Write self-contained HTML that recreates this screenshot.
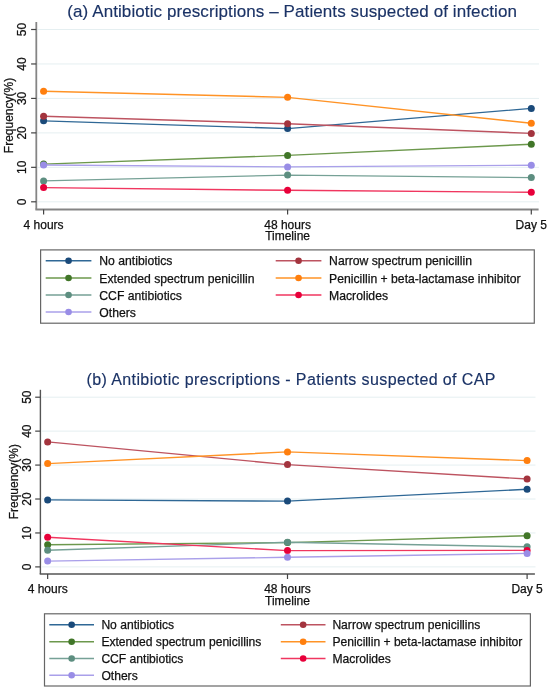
<!DOCTYPE html>
<html><head><meta charset="utf-8"><style>
html,body{margin:0;padding:0;background:#fff;}
svg{display:block;font-family:"Liberation Sans", sans-serif;will-change:transform;}
</style></head><body>
<svg width="550" height="692" viewBox="0 0 550 692" shape-rendering="geometricPrecision">
<rect width="550" height="692" fill="#fff"/>
<line x1="37.8" y1="201.80" x2="539" y2="201.80" stroke="#e5eff1" stroke-width="1"/>
<line x1="37.8" y1="167.34" x2="539" y2="167.34" stroke="#e5eff1" stroke-width="1"/>
<line x1="37.8" y1="132.88" x2="539" y2="132.88" stroke="#e5eff1" stroke-width="1"/>
<line x1="37.8" y1="98.42" x2="539" y2="98.42" stroke="#e5eff1" stroke-width="1"/>
<line x1="37.8" y1="63.96" x2="539" y2="63.96" stroke="#e5eff1" stroke-width="1"/>
<line x1="37.8" y1="29.50" x2="539" y2="29.50" stroke="#e5eff1" stroke-width="1"/>
<line x1="36.3" y1="22" x2="36.3" y2="209.5" stroke="#858585" stroke-width="1.8"/>
<line x1="35.4" y1="209.5" x2="538.6" y2="209.5" stroke="#858585" stroke-width="1.8"/>
<line x1="31.099999999999998" y1="201.80" x2="36.3" y2="201.80" stroke="#444" stroke-width="1.2"/>
<text x="0" y="0" transform="translate(26.2,201.80) rotate(-90)" text-anchor="middle" font-size="12" fill="#111" stroke="#111" stroke-width="0.25">0</text>
<line x1="31.099999999999998" y1="167.34" x2="36.3" y2="167.34" stroke="#444" stroke-width="1.2"/>
<text x="0" y="0" transform="translate(26.2,167.34) rotate(-90)" text-anchor="middle" font-size="12" fill="#111" stroke="#111" stroke-width="0.25">10</text>
<line x1="31.099999999999998" y1="132.88" x2="36.3" y2="132.88" stroke="#444" stroke-width="1.2"/>
<text x="0" y="0" transform="translate(26.2,132.88) rotate(-90)" text-anchor="middle" font-size="12" fill="#111" stroke="#111" stroke-width="0.25">20</text>
<line x1="31.099999999999998" y1="98.42" x2="36.3" y2="98.42" stroke="#444" stroke-width="1.2"/>
<text x="0" y="0" transform="translate(26.2,98.42) rotate(-90)" text-anchor="middle" font-size="12" fill="#111" stroke="#111" stroke-width="0.25">30</text>
<line x1="31.099999999999998" y1="63.96" x2="36.3" y2="63.96" stroke="#444" stroke-width="1.2"/>
<text x="0" y="0" transform="translate(26.2,63.96) rotate(-90)" text-anchor="middle" font-size="12" fill="#111" stroke="#111" stroke-width="0.25">40</text>
<line x1="31.099999999999998" y1="29.50" x2="36.3" y2="29.50" stroke="#444" stroke-width="1.2"/>
<text x="0" y="0" transform="translate(26.2,29.50) rotate(-90)" text-anchor="middle" font-size="12" fill="#111" stroke="#111" stroke-width="0.25">50</text>
<line x1="43.6" y1="209.5" x2="43.6" y2="214.5" stroke="#444" stroke-width="1.2"/>
<line x1="287.6" y1="209.5" x2="287.6" y2="214.5" stroke="#444" stroke-width="1.2"/>
<line x1="531.3" y1="209.5" x2="531.3" y2="214.5" stroke="#444" stroke-width="1.2"/>
<text x="43.6" y="228.6" text-anchor="middle" font-size="12" fill="#111" stroke="#111" stroke-width="0.25">4 hours</text>
<text x="287.6" y="228.6" text-anchor="middle" font-size="12" fill="#111" stroke="#111" stroke-width="0.25">48 hours</text>
<text x="531.3" y="228.6" text-anchor="middle" font-size="12" fill="#111" stroke="#111" stroke-width="0.25">Day 5</text>
<text x="287.6" y="240.1" text-anchor="middle" font-size="12" fill="#111" stroke="#111" stroke-width="0.25">Timeline</text>
<text x="0" y="0" transform="translate(13.1,115.5) rotate(-90)" text-anchor="middle" font-size="12" fill="#111" stroke="#111" stroke-width="0.25">Frequency(%)</text>
<text x="67.3" y="16.7" font-size="17" letter-spacing="0.09" fill="#1b3366" stroke="#1b3366" stroke-width="0.15">(a) Antibiotic prescriptions – Patients suspected of infection</text>
<polyline points="43.60,120.85 287.60,128.60 531.30,108.40" fill="none" stroke="#2f6896" stroke-width="1.4"/>
<circle cx="43.60" cy="120.85" r="3.5" fill="#1a4a7a"/>
<circle cx="287.60" cy="128.60" r="3.5" fill="#1a4a7a"/>
<circle cx="531.30" cy="108.40" r="3.5" fill="#1a4a7a"/>
<polyline points="43.60,116.20 287.60,123.80 531.30,133.40" fill="none" stroke="#bd5360" stroke-width="1.4"/>
<circle cx="43.60" cy="116.20" r="3.5" fill="#a3343e"/>
<circle cx="287.60" cy="123.80" r="3.5" fill="#a3343e"/>
<circle cx="531.30" cy="133.40" r="3.5" fill="#a3343e"/>
<polyline points="43.60,164.10 287.60,155.40 531.30,144.20" fill="none" stroke="#6c984c" stroke-width="1.4"/>
<circle cx="43.60" cy="164.10" r="3.5" fill="#417628"/>
<circle cx="287.60" cy="155.40" r="3.5" fill="#417628"/>
<circle cx="531.30" cy="144.20" r="3.5" fill="#417628"/>
<polyline points="43.60,91.20 287.60,97.35 531.30,123.20" fill="none" stroke="#ff9326" stroke-width="1.4"/>
<circle cx="43.60" cy="91.20" r="3.5" fill="#ff7f0e"/>
<circle cx="287.60" cy="97.35" r="3.5" fill="#ff7f0e"/>
<circle cx="531.30" cy="123.20" r="3.5" fill="#ff7f0e"/>
<polyline points="43.60,180.90 287.60,175.10 531.30,177.60" fill="none" stroke="#76a196" stroke-width="1.4"/>
<circle cx="43.60" cy="180.90" r="3.5" fill="#5d8e80"/>
<circle cx="287.60" cy="175.10" r="3.5" fill="#5d8e80"/>
<circle cx="531.30" cy="177.60" r="3.5" fill="#5d8e80"/>
<polyline points="43.60,187.60 287.60,190.30 531.30,192.30" fill="none" stroke="#f0365f" stroke-width="1.4"/>
<circle cx="43.60" cy="187.60" r="3.5" fill="#e8003a"/>
<circle cx="287.60" cy="190.30" r="3.5" fill="#e8003a"/>
<circle cx="531.30" cy="192.30" r="3.5" fill="#e8003a"/>
<polyline points="43.60,165.00 287.60,166.90 531.30,165.20" fill="none" stroke="#aaa0ea" stroke-width="1.4"/>
<circle cx="43.60" cy="165.00" r="3.5" fill="#998de6"/>
<circle cx="287.60" cy="166.90" r="3.5" fill="#998de6"/>
<circle cx="531.30" cy="165.20" r="3.5" fill="#998de6"/>
<rect x="40.6" y="249.9" width="493.69999999999993" height="73.29999999999998" fill="none" stroke="#666" stroke-width="1.2"/>
<line x1="45.7" y1="260.8" x2="91.4" y2="260.8" stroke="#2f6896" stroke-width="1.6"/>
<circle cx="68.55000000000001" cy="260.8" r="3.3" fill="#1a4a7a"/>
<text x="99.3" y="265.40000000000003" font-size="12.2" fill="#111" stroke="#111" stroke-width="0.25">No antibiotics</text>
<line x1="45.7" y1="278.0" x2="91.4" y2="278.0" stroke="#6c984c" stroke-width="1.6"/>
<circle cx="68.55000000000001" cy="278.0" r="3.3" fill="#417628"/>
<text x="99.3" y="282.6" font-size="12.2" fill="#111" stroke="#111" stroke-width="0.25">Extended spectrum penicillin</text>
<line x1="45.7" y1="295.0" x2="91.4" y2="295.0" stroke="#76a196" stroke-width="1.6"/>
<circle cx="68.55000000000001" cy="295.0" r="3.3" fill="#5d8e80"/>
<text x="99.3" y="299.6" font-size="12.2" fill="#111" stroke="#111" stroke-width="0.25">CCF antibiotics</text>
<line x1="45.7" y1="312.0" x2="91.4" y2="312.0" stroke="#aaa0ea" stroke-width="1.6"/>
<circle cx="68.55000000000001" cy="312.0" r="3.3" fill="#998de6"/>
<text x="99.3" y="316.6" font-size="12.2" fill="#111" stroke="#111" stroke-width="0.25">Others</text>
<line x1="275.7" y1="260.8" x2="321.4" y2="260.8" stroke="#bd5360" stroke-width="1.6"/>
<circle cx="298.54999999999995" cy="260.8" r="3.3" fill="#a3343e"/>
<text x="329.1" y="265.40000000000003" font-size="12.2" fill="#111" stroke="#111" stroke-width="0.25">Narrow spectrum penicillin</text>
<line x1="275.7" y1="278.0" x2="321.4" y2="278.0" stroke="#ff9326" stroke-width="1.6"/>
<circle cx="298.54999999999995" cy="278.0" r="3.3" fill="#ff7f0e"/>
<text x="329.1" y="282.6" font-size="12.2" fill="#111" stroke="#111" stroke-width="0.25">Penicillin + beta-lactamase inhibitor</text>
<line x1="275.7" y1="295.0" x2="321.4" y2="295.0" stroke="#f0365f" stroke-width="1.6"/>
<circle cx="298.54999999999995" cy="295.0" r="3.3" fill="#e8003a"/>
<text x="329.1" y="299.6" font-size="12.2" fill="#111" stroke="#111" stroke-width="0.25">Macrolides</text>
<line x1="41.9" y1="566.90" x2="535.5" y2="566.90" stroke="#e5eff1" stroke-width="1"/>
<line x1="41.9" y1="532.96" x2="535.5" y2="532.96" stroke="#e5eff1" stroke-width="1"/>
<line x1="41.9" y1="499.02" x2="535.5" y2="499.02" stroke="#e5eff1" stroke-width="1"/>
<line x1="41.9" y1="465.08" x2="535.5" y2="465.08" stroke="#e5eff1" stroke-width="1"/>
<line x1="41.9" y1="431.14" x2="535.5" y2="431.14" stroke="#e5eff1" stroke-width="1"/>
<line x1="41.9" y1="397.20" x2="535.5" y2="397.20" stroke="#e5eff1" stroke-width="1"/>
<line x1="40.4" y1="389.8" x2="40.4" y2="574.0" stroke="#555555" stroke-width="1.4"/>
<line x1="39.699999999999996" y1="574.0" x2="534.9" y2="574.0" stroke="#555555" stroke-width="1.4"/>
<line x1="35.199999999999996" y1="566.90" x2="40.4" y2="566.90" stroke="#444" stroke-width="1.2"/>
<text x="0" y="0" transform="translate(30.9,566.90) rotate(-90)" text-anchor="middle" font-size="12" fill="#111" stroke="#111" stroke-width="0.25">0</text>
<line x1="35.199999999999996" y1="532.96" x2="40.4" y2="532.96" stroke="#444" stroke-width="1.2"/>
<text x="0" y="0" transform="translate(30.9,532.96) rotate(-90)" text-anchor="middle" font-size="12" fill="#111" stroke="#111" stroke-width="0.25">10</text>
<line x1="35.199999999999996" y1="499.02" x2="40.4" y2="499.02" stroke="#444" stroke-width="1.2"/>
<text x="0" y="0" transform="translate(30.9,499.02) rotate(-90)" text-anchor="middle" font-size="12" fill="#111" stroke="#111" stroke-width="0.25">20</text>
<line x1="35.199999999999996" y1="465.08" x2="40.4" y2="465.08" stroke="#444" stroke-width="1.2"/>
<text x="0" y="0" transform="translate(30.9,465.08) rotate(-90)" text-anchor="middle" font-size="12" fill="#111" stroke="#111" stroke-width="0.25">30</text>
<line x1="35.199999999999996" y1="431.14" x2="40.4" y2="431.14" stroke="#444" stroke-width="1.2"/>
<text x="0" y="0" transform="translate(30.9,431.14) rotate(-90)" text-anchor="middle" font-size="12" fill="#111" stroke="#111" stroke-width="0.25">40</text>
<line x1="35.199999999999996" y1="397.20" x2="40.4" y2="397.20" stroke="#444" stroke-width="1.2"/>
<text x="0" y="0" transform="translate(30.9,397.20) rotate(-90)" text-anchor="middle" font-size="12" fill="#111" stroke="#111" stroke-width="0.25">50</text>
<line x1="47.65" y1="574.0" x2="47.65" y2="579.0" stroke="#444" stroke-width="1.2"/>
<line x1="287.5" y1="574.0" x2="287.5" y2="579.0" stroke="#444" stroke-width="1.2"/>
<line x1="527.1" y1="574.0" x2="527.1" y2="579.0" stroke="#444" stroke-width="1.2"/>
<text x="47.65" y="593.0" text-anchor="middle" font-size="12" fill="#111" stroke="#111" stroke-width="0.25">4 hours</text>
<text x="287.5" y="593.0" text-anchor="middle" font-size="12" fill="#111" stroke="#111" stroke-width="0.25">48 hours</text>
<text x="527.1" y="593.0" text-anchor="middle" font-size="12" fill="#111" stroke="#111" stroke-width="0.25">Day 5</text>
<text x="287.5" y="604.5" text-anchor="middle" font-size="12" fill="#111" stroke="#111" stroke-width="0.25">Timeline</text>
<text x="0" y="0" transform="translate(17.5,481.7) rotate(-90)" text-anchor="middle" font-size="12" fill="#111" stroke="#111" stroke-width="0.25">Frequency(%)</text>
<text x="86.6" y="384.6" font-size="16" letter-spacing="0.383" fill="#1b3366" stroke="#1b3366" stroke-width="0.15">(b) Antibiotic prescriptions - Patients suspected of CAP</text>
<polyline points="47.65,499.90 287.50,501.10 527.10,489.30" fill="none" stroke="#2f6896" stroke-width="1.4"/>
<circle cx="47.65" cy="499.90" r="3.5" fill="#1a4a7a"/>
<circle cx="287.50" cy="501.10" r="3.5" fill="#1a4a7a"/>
<circle cx="527.10" cy="489.30" r="3.5" fill="#1a4a7a"/>
<polyline points="47.65,441.90 287.50,464.60 527.10,479.00" fill="none" stroke="#bd5360" stroke-width="1.4"/>
<circle cx="47.65" cy="441.90" r="3.5" fill="#a3343e"/>
<circle cx="287.50" cy="464.60" r="3.5" fill="#a3343e"/>
<circle cx="527.10" cy="479.00" r="3.5" fill="#a3343e"/>
<polyline points="47.65,544.70 287.50,542.60 527.10,535.70" fill="none" stroke="#6c984c" stroke-width="1.4"/>
<circle cx="47.65" cy="544.70" r="3.5" fill="#417628"/>
<circle cx="287.50" cy="542.60" r="3.5" fill="#417628"/>
<circle cx="527.10" cy="535.70" r="3.5" fill="#417628"/>
<polyline points="47.65,463.60 287.50,451.90 527.10,460.60" fill="none" stroke="#ff9326" stroke-width="1.4"/>
<circle cx="47.65" cy="463.60" r="3.5" fill="#ff7f0e"/>
<circle cx="287.50" cy="451.90" r="3.5" fill="#ff7f0e"/>
<circle cx="527.10" cy="460.60" r="3.5" fill="#ff7f0e"/>
<polyline points="47.65,550.20 287.50,542.30 527.10,546.80" fill="none" stroke="#76a196" stroke-width="1.4"/>
<circle cx="47.65" cy="550.20" r="3.5" fill="#5d8e80"/>
<circle cx="287.50" cy="542.30" r="3.5" fill="#5d8e80"/>
<circle cx="527.10" cy="546.80" r="3.5" fill="#5d8e80"/>
<polyline points="47.65,537.20 287.50,550.60 527.10,550.40" fill="none" stroke="#f0365f" stroke-width="1.4"/>
<circle cx="47.65" cy="537.20" r="3.5" fill="#e8003a"/>
<circle cx="287.50" cy="550.60" r="3.5" fill="#e8003a"/>
<circle cx="527.10" cy="550.40" r="3.5" fill="#e8003a"/>
<polyline points="47.65,561.10 287.50,557.30 527.10,553.40" fill="none" stroke="#aaa0ea" stroke-width="1.4"/>
<circle cx="47.65" cy="561.10" r="3.5" fill="#998de6"/>
<circle cx="287.50" cy="557.30" r="3.5" fill="#998de6"/>
<circle cx="527.10" cy="553.40" r="3.5" fill="#998de6"/>
<rect x="44.5" y="613.8" width="485.9" height="72.20000000000005" fill="none" stroke="#666" stroke-width="1.2"/>
<line x1="49.3" y1="624.7" x2="94.0" y2="624.7" stroke="#2f6896" stroke-width="1.6"/>
<circle cx="71.65" cy="624.7" r="3.3" fill="#1a4a7a"/>
<text x="101.4" y="629.3000000000001" font-size="12.1" fill="#111" stroke="#111" stroke-width="0.25">No antibiotics</text>
<line x1="49.3" y1="641.7" x2="94.0" y2="641.7" stroke="#6c984c" stroke-width="1.6"/>
<circle cx="71.65" cy="641.7" r="3.3" fill="#417628"/>
<text x="101.4" y="646.3000000000001" font-size="12.1" fill="#111" stroke="#111" stroke-width="0.25">Extended spectrum penicillins</text>
<line x1="49.3" y1="658.5" x2="94.0" y2="658.5" stroke="#76a196" stroke-width="1.6"/>
<circle cx="71.65" cy="658.5" r="3.3" fill="#5d8e80"/>
<text x="101.4" y="663.1" font-size="12.1" fill="#111" stroke="#111" stroke-width="0.25">CCF antibiotics</text>
<line x1="49.3" y1="675.3" x2="94.0" y2="675.3" stroke="#aaa0ea" stroke-width="1.6"/>
<circle cx="71.65" cy="675.3" r="3.3" fill="#998de6"/>
<text x="101.4" y="679.9" font-size="12.1" fill="#111" stroke="#111" stroke-width="0.25">Others</text>
<line x1="280.8" y1="624.7" x2="325.5" y2="624.7" stroke="#bd5360" stroke-width="1.6"/>
<circle cx="303.15" cy="624.7" r="3.3" fill="#a3343e"/>
<text x="332.4" y="629.3000000000001" font-size="12.1" fill="#111" stroke="#111" stroke-width="0.25">Narrow spectrum penicillins</text>
<line x1="280.8" y1="641.7" x2="325.5" y2="641.7" stroke="#ff9326" stroke-width="1.6"/>
<circle cx="303.15" cy="641.7" r="3.3" fill="#ff7f0e"/>
<text x="332.4" y="646.3000000000001" font-size="12.1" fill="#111" stroke="#111" stroke-width="0.25">Penicillin + beta-lactamase inhibitor</text>
<line x1="280.8" y1="658.5" x2="325.5" y2="658.5" stroke="#f0365f" stroke-width="1.6"/>
<circle cx="303.15" cy="658.5" r="3.3" fill="#e8003a"/>
<text x="332.4" y="663.1" font-size="12.1" fill="#111" stroke="#111" stroke-width="0.25">Macrolides</text>
</svg></body></html>
